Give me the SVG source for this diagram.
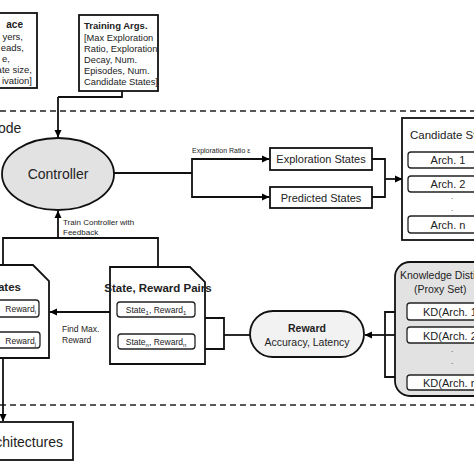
<svg xmlns="http://www.w3.org/2000/svg" width="474" height="474" viewBox="0 0 474 474">
<defs>
<marker id="ah" markerWidth="8" markerHeight="8" refX="7" refY="4" orient="auto" markerUnits="userSpaceOnUse">
<path d="M0,0.5 L7.5,4 L0,7.5 Z" fill="#000"/>
</marker>
<style>
text{font-family:"Liberation Sans",Arial,sans-serif;fill:#222}
.box{fill:#fff;stroke:#111;stroke-width:1.8}
.inner{fill:#fff;stroke:#222;stroke-width:1.3}
.ln{fill:none;stroke:#111;stroke-width:1.8}
.arr{fill:none;stroke:#111;stroke-width:1.8;marker-end:url(#ah)}
.dash{fill:none;stroke:#222;stroke-width:1.4;stroke-dasharray:6,4}
.b{font-weight:bold}
</style>
</defs>
<rect width="474" height="474" fill="#fff"/>

<line class="dash" x1="0" y1="111" x2="474" y2="111"/>
<line class="dash" x1="0" y1="405" x2="474" y2="405"/>
<text x="-2" y="133" font-size="14">ode</text>

<g id="connectors">
<polyline class="ln" points="122,91 122,97 58,97"/>
<polyline class="arr" points="58,97 58,137"/>
<polyline class="ln" points="114,173 192,173"/>
<polyline class="arr" points="192,173 192,159 269,159"/>
<polyline class="arr" points="192,173 192,197 269,197"/>
<polyline class="ln" points="372,159 385,159 385,197 372,197"/>
<polyline class="arr" points="385,179 402,179"/>
<polyline class="ln" points="158,267 158,238 3,238 3,265"/>
<polyline class="arr" points="58,238 58,211"/>
<polyline class="arr" points="110,312 50,312"/>
<polyline class="arr" points="3,358 3,421"/>
<polyline class="ln" points="250,335 224,335"/>
<polyline class="arr" points="224,335 224,318 196,318"/>
<polyline class="arr" points="224,335 224,349 196,349"/>
<polyline class="arr" points="385,335 365,335"/>
<polyline class="ln" points="407,312 385,312 385,377 407,377"/>
<polyline class="ln" points="385,335 407,335"/>
<text x="192" y="153" font-size="7">Exploration Ratio ε</text>
<text x="63" y="225" font-size="8">Train Controller with</text>
<text x="63" y="235" font-size="8">Feedback</text>
<text x="62" y="332" font-size="8.5">Find Max.</text>
<text x="62" y="343" font-size="8.5">Reward</text>
</g>

<g id="search-space">
<rect class="box" x="-10" y="13" width="47" height="75"/>
<text x="23" y="28" font-size="10" class="b" text-anchor="end">ace</text>
<text x="23" y="40" font-size="9.5" text-anchor="end">yers,</text>
<text x="24" y="51" font-size="9.5" text-anchor="end">eads,</text>
<text x="10" y="62" font-size="9.5" text-anchor="end">e,</text>
<text x="32" y="73" font-size="9.5" text-anchor="end">ate size,</text>
<text x="32" y="84" font-size="9.5" text-anchor="end">ivation]</text>
</g>

<g id="training-args">
<rect class="box" x="79" y="15" width="79" height="76"/>
<text x="84" y="29" font-size="9.5" class="b">Training Args.</text>
<text x="84" y="41" font-size="9.3">[Max Exploration</text>
<text x="84" y="52" font-size="9.3">Ratio, Exploration</text>
<text x="84" y="63" font-size="9.3">Decay, Num.</text>
<text x="84" y="74" font-size="9.3">Episodes, Num.</text>
<text x="84" y="85" font-size="9.3">Candidate States]</text>
</g>

<g id="controller">
<ellipse cx="58" cy="174" rx="56" ry="36" fill="#e2e2e2" stroke="#111" stroke-width="1.8"/>
<text x="58" y="179" font-size="14" text-anchor="middle">Controller</text>
</g>

<g id="exploration-states">
<rect class="box" x="270" y="148" width="102" height="22"/>
<text x="321" y="163" font-size="11" text-anchor="middle">Exploration States</text>
</g>

<g id="predicted-states">
<rect class="box" x="270" y="187" width="102" height="21"/>
<text x="321" y="202" font-size="11" text-anchor="middle">Predicted States</text>
</g>

<g id="candidate-states">
<rect class="box" x="402" y="118" width="100" height="122"/>
<text x="410" y="139" font-size="11.5">Candidate States</text>
<rect class="inner" x="408" y="152" width="82" height="16" rx="3"/>
<text x="448" y="164" font-size="11" text-anchor="middle">Arch. 1</text>
<rect class="inner" x="408" y="176" width="82" height="16" rx="3"/>
<text x="448" y="188" font-size="11" text-anchor="middle">Arch. 2</text>
<text x="452" y="199" font-size="8" text-anchor="middle">.</text>
<text x="452" y="211" font-size="8" text-anchor="middle">.</text>
<rect class="inner" x="408" y="216" width="82" height="17" rx="3"/>
<text x="448" y="229" font-size="11" text-anchor="middle">Arch. n</text>
</g>

<g id="best-states">
<path class="box" d="M-10,265 H33 L49,281 V358 H-10 Z"/>
<text x="21" y="291" font-size="11.5" class="b" text-anchor="end">ates</text>
<rect class="inner" x="-20" y="300" width="59" height="17" rx="3"/>
<text x="36" y="312" font-size="8.5" text-anchor="end">Reward<tspan font-size="6" dy="2">i</tspan></text>
<rect class="inner" x="-20" y="332" width="60" height="16" rx="3"/>
<text x="36" y="344" font-size="8.5" text-anchor="end">Reward<tspan font-size="6" dy="2">j</tspan></text>
</g>

<g id="state-reward-pairs">
<path class="box" d="M110,267 H190 L205,282 V364 H110 Z"/>
<text x="158" y="292" font-size="11.5" class="b" text-anchor="middle">State, Reward Pairs</text>
<rect class="inner" x="117" y="302" width="78" height="15" rx="3"/>
<text x="156" y="313" font-size="8.5" text-anchor="middle">State<tspan font-size="6" dy="2">1</tspan><tspan dy="-2">, Reward</tspan><tspan font-size="6" dy="2">1</tspan></text>
<rect class="inner" x="118" y="334" width="77" height="15" rx="3"/>
<text x="156" y="345" font-size="8.5" text-anchor="middle">State<tspan font-size="6" dy="2">n</tspan><tspan dy="-2">, Reward</tspan><tspan font-size="6" dy="2">n</tspan></text>
</g>

<g id="reward">
<rect x="250" y="311" width="114" height="46" rx="23" fill="#f2f2f2" stroke="#111" stroke-width="1.8"/>
<text x="307" y="332" font-size="10.5" class="b" text-anchor="middle">Reward</text>
<text x="307" y="346" font-size="10.5" text-anchor="middle">Accuracy, Latency</text>
</g>

<g id="knowledge-distillation">
<rect x="395" y="262" width="110" height="134" rx="15" fill="#e2e2e2" stroke="#111" stroke-width="1.8"/>
<text x="400" y="279" font-size="10.5">Knowledge Distillation</text>
<text x="414" y="293" font-size="10.5">(Proxy Set)</text>
<rect class="inner" x="407" y="303" width="90" height="17" rx="3"/>
<text x="423" y="316" font-size="11">KD(Arch. 1)</text>
<rect class="inner" x="407" y="327" width="90" height="16" rx="3"/>
<text x="423" y="340" font-size="11">KD(Arch. 2)</text>
<text x="452" y="352" font-size="8" text-anchor="middle">.</text>
<text x="452" y="364" font-size="8" text-anchor="middle">.</text>
<rect class="inner" x="407" y="375" width="90" height="15" rx="3"/>
<text x="423" y="387" font-size="11">KD(Arch. n)</text>
</g>

<g id="architectures">
<rect class="box" x="-10" y="422" width="83" height="38"/>
<text x="63" y="447" font-size="14" text-anchor="end">chitectures</text>
</g>
</svg>
